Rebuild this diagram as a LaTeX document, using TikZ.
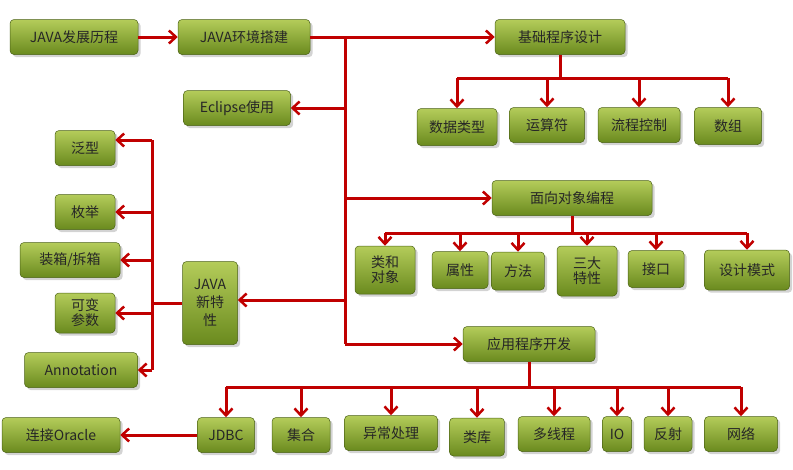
\documentclass[tikz,border=0pt]{standalone}
\usepackage{fontspec}
\setmainfont{Noto Sans CJK SC}[BoldFont={Noto Sans CJK SC Bold}]
\usetikzlibrary{arrows.meta,shadows}
\definecolor{lnk}{HTML}{C00000}
\definecolor{gtop}{HTML}{B4CC5A}
\definecolor{gbot}{HTML}{6A8A1E}
\tikzset{
 bx/.style={draw=gbot!70!black,line width=0.5pt,rounded corners=4pt,top color=gtop,bottom color=gbot,text=black!85,
   minimum height=35pt,inner sep=3pt,font=\fontsize{14}{16}\selectfont,align=center,drop shadow={opacity=0.35}},
 ln/.style={draw=lnk,line width=3pt},
 ar/.style={ln,-{Straight Barb[length=7pt,width=13pt,line width=2.5pt]}}
}
\begin{document}
\begin{tikzpicture}[x=1pt,y=-1pt]
\useasboundingbox (0,0) rectangle (793,469);
\node[bx,minimum width=128] (hist) at (74,37) {JAVA发展历程};
\node[bx,minimum width=132] (env) at (244,37) {JAVA环境搭建};
\node[bx,minimum width=130] (base) at (560,37) {基础程序设计};
\node[bx,minimum width=107] (ecl) at (237,108) {Eclipse使用};
\node[bx,minimum width=80,minimum height=37] (dt) at (457,127) {数据类型};
\node[bx,minimum width=75] (op) at (547,125) {运算符};
\node[bx,minimum width=82] (fc) at (639,125) {流程控制};
\node[bx,minimum width=67,minimum height=37] (arr) at (728,126) {数组};
\node[bx,minimum width=60] (gen) at (85,148) {泛型};
\node[bx,minimum width=60] (enm) at (85,212) {枚举};
\node[bx,minimum width=100] (box) at (70,260) {装箱/拆箱};
\node[bx,minimum width=60,minimum height=40,font=\fontsize{14}{15}\selectfont] (var) at (85,313) {可变\\参数};
\node[bx,minimum width=113] (ann) at (81,370) {Annotation};
\node[bx,minimum width=55,minimum height=83,font=\fontsize{14}{18}\selectfont] (nf) at (210,303) {JAVA\\新特\\性};
\node[bx,minimum width=160] (oop) at (572,198) {面向对象编程};
\node[bx,minimum width=60,minimum height=48,font=\fontsize{14}{15}\selectfont] (cls) at (385,270) {类和\\对象};
\node[bx,minimum width=56,minimum height=37] (attr) at (460,270) {属性};
\node[bx,minimum width=53,minimum height=38] (meth) at (518,271) {方法};
\node[bx,minimum width=60,minimum height=50,font=\fontsize{14}{15}\selectfont] (three) at (587,271) {三大\\特性};
\node[bx,minimum width=56,minimum height=37] (intf) at (656,269) {接口};
\node[bx,minimum width=85,minimum height=40] (dp) at (747,270) {设计模式};
\node[bx,minimum width=132] (app) at (529,344) {应用程序开发};
\node[bx,minimum width=118] (ora) at (61,435) {连接Oracle};
\node[bx,minimum width=57] (jdbc) at (226,435) {JDBC};
\node[bx,minimum width=58] (col) at (301,435) {集合};
\node[bx,minimum width=93] (exc) at (391,433) {异常处理};
\node[bx,minimum width=55,minimum height=38] (lib) at (477,437) {类库};
\node[bx,minimum width=72] (thr) at (554,434) {多线程};
\node[bx,minimum width=29,inner sep=1pt] (io) at (617,434) {IO};
\node[bx,minimum width=48] (ref) at (668,434) {反射};
\node[bx,minimum width=73] (net) at (741,434) {网络};
% trunk
\coordinate (t0) at (345,37);
\coordinate (t1) at (345,344);
\draw[ar] (hist) -- (env);
\draw[ln] (env) -- (t0) -- (t1);
\draw[ar] (t0) -- (base);
\draw[ar] (t0|-ecl) -- (ecl);
\draw[ar] (t0|-oop) -- (oop);
\draw[ar] (345,300) -- (nf.east|-0,300);
\draw[ar] (t1) -- (app);
% basic
\coordinate (b1) at (560,78);
\draw[ln] (base) -- (b1);
\draw[ln] (dt.north|-b1) -- (arr.north|-b1);
\foreach \n in {dt,op,fc,arr} \draw[ar] (\n.north|-b1) -- (\n);
% oop
\coordinate (o1) at (572,233);
\draw[ln] (oop) -- (o1);
\draw[ln] (cls.north|-o1) -- (dp.north|-o1);
\foreach \n in {cls,attr,meth,three,intf,dp} \draw[ar] (\n.north|-o1) -- (\n);
% app
\coordinate (a1) at (529,387);
\draw[ln] (app) -- (a1);
\draw[ln] (jdbc.north|-a1) -- (net.north|-a1);
\foreach \n in {jdbc,col,exc,lib,thr,io,ref,net} \draw[ar] (\n.north|-a1) -- (\n);
\draw[ar] (jdbc) -- (ora);
% new features
\coordinate (n0) at (152,140);
\coordinate (n1) at (152,370);
\draw[ln] (nf.west) -- (nf.west-|n0);
\draw[ln] (n0) -- (n1);
\draw[ar] (n0) -- (gen.east|-n0);
\foreach \n in {enm,box,var,ann} \draw[ar] (n0|-\n) -- (\n);
\end{tikzpicture}
\end{document}
